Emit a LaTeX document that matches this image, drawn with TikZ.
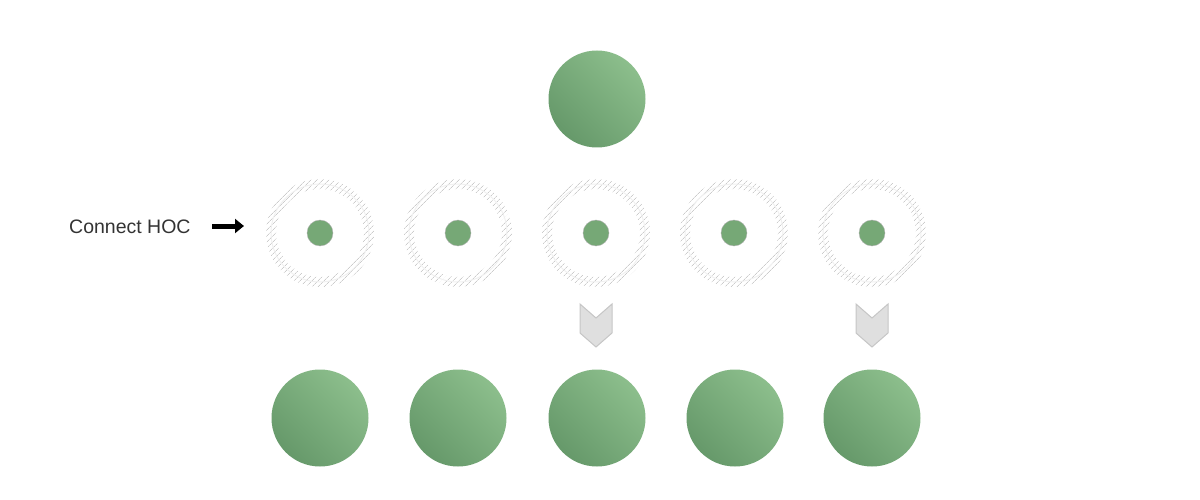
\documentclass[tikz,border=0pt]{standalone}
\usepackage{fontspec}
\setmainfont{Liberation Sans}
\usetikzlibrary{patterns.meta,arrows.meta}
\definecolor{gdark}{HTML}{66996A}
\definecolor{glight}{HTML}{8CBE8C}
\definecolor{dotg}{HTML}{76A876}
\tikzset{
  big/.style={circle,minimum size=97pt,inner sep=0pt,shade,left color=gdark,right color=glight,shading angle=135},
  dot/.style={circle,minimum size=26pt,inner sep=0pt,fill=dotg,draw=gray!60,line width=0.4pt},
  chev/.style={fill=gray!25,draw=gray!45,line width=1pt,line join=miter}
}
\begin{document}
\begin{tikzpicture}[x=1pt,y=-1pt]
\useasboundingbox (0,0) rectangle (1200,500);
\node[big] (top) at (597,99) {};
\foreach \x [count=\i] in {320,458,597,735,872}{
  \node[big] (b\i) at (\x,418) {};
}
\foreach \x [count=\i] in {320,458,596,734,872}{
  \fill[pattern={Lines[angle=45,distance=4pt,line width=0.7pt]},pattern color=gray!40,even odd rule] (\x,233) circle[radius=54] (\x,233) circle[radius=44];
  \draw[gray!12,line width=1pt] (\x,233) circle[radius=49];
  \node[dot] (d\i) at (\x,233) {};
}
\foreach \x in {596,872}{
  \draw[chev] (\x-16,304) -- (\x,318) -- (\x+16,304) -- (\x+16,333) -- (\x,347) -- (\x-16,333) -- cycle;
}
\node[anchor=west,text=black!80,font=\fontsize{19.5}{23}\selectfont,inner sep=0pt] (lab) at (69,227) {Connect HOC};
\coordinate (as) at (212,226);
\coordinate (ae) at (244,226);
\draw[line width=5pt,-{Triangle[length=9pt,width=14pt]}] (as) -- (ae);
\end{tikzpicture}
\end{document}
